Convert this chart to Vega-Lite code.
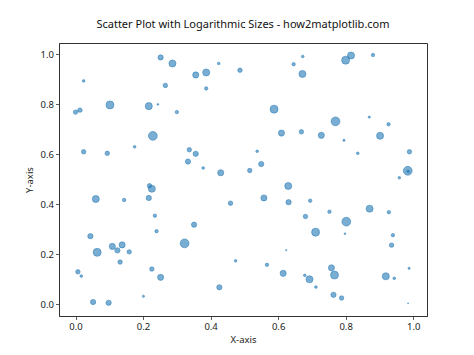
{
  "$schema": "https://vega.github.io/schema/vega-lite/v6.json",
  "width": 368,
  "height": 273,
  "autosize": {"type": "none"},
  "padding": {"left": 59, "top": 43, "right": 47, "bottom": 39},
  "background": "white",
  "title": {
    "text": "Scatter Plot with Logarithmic Sizes - how2matplotlib.com",
    "fontSize": 11,
    "font": "Noto Sans",
    "fontWeight": "normal",
    "color": "#111",
    "baseline": "alphabetic",
    "offset": 4,
    "anchor": "middle"
  },
  "data": {
    "values": [
      {"x": 0.252, "y": 0.988, "s": 28},
      {"x": 0.287, "y": 0.964, "s": 50},
      {"x": 0.024, "y": 0.894, "s": 7},
      {"x": 0.356, "y": 0.918, "s": 38},
      {"x": 0.387, "y": 0.928, "s": 50},
      {"x": 0.424, "y": 0.964, "s": 7},
      {"x": 0.487, "y": 0.937, "s": 20},
      {"x": 0.266, "y": 0.876, "s": 20},
      {"x": 0.387, "y": 0.864, "s": 12},
      {"x": 0.102, "y": 0.798, "s": 64},
      {"x": 0.0, "y": 0.769, "s": 20},
      {"x": 0.013, "y": 0.777, "s": 20},
      {"x": 0.217, "y": 0.793, "s": 50},
      {"x": 0.244, "y": 0.8, "s": 3},
      {"x": 0.3, "y": 0.769, "s": 12},
      {"x": 0.229, "y": 0.674, "s": 78},
      {"x": 0.024, "y": 0.61, "s": 20},
      {"x": 0.094, "y": 0.604, "s": 20},
      {"x": 0.175, "y": 0.63, "s": 7},
      {"x": 0.337, "y": 0.618, "s": 20},
      {"x": 0.356, "y": 0.602, "s": 28},
      {"x": 0.333, "y": 0.571, "s": 28},
      {"x": 0.378, "y": 0.545, "s": 7},
      {"x": 0.43, "y": 0.526, "s": 38},
      {"x": 0.673, "y": 0.992, "s": 7},
      {"x": 0.646, "y": 0.961, "s": 12},
      {"x": 0.672, "y": 0.922, "s": 50},
      {"x": 0.8, "y": 0.977, "s": 64},
      {"x": 0.816, "y": 0.996, "s": 50},
      {"x": 0.881, "y": 0.998, "s": 12},
      {"x": 0.588, "y": 0.781, "s": 64},
      {"x": 0.77, "y": 0.732, "s": 78},
      {"x": 0.87, "y": 0.749, "s": 5},
      {"x": 0.927, "y": 0.72, "s": 12},
      {"x": 0.61, "y": 0.685, "s": 38},
      {"x": 0.669, "y": 0.69, "s": 20},
      {"x": 0.728, "y": 0.676, "s": 38},
      {"x": 0.795, "y": 0.656, "s": 5},
      {"x": 0.902, "y": 0.674, "s": 50},
      {"x": 0.538, "y": 0.612, "s": 7},
      {"x": 0.836, "y": 0.604, "s": 7},
      {"x": 0.989, "y": 0.61, "s": 20},
      {"x": 0.55, "y": 0.561, "s": 28},
      {"x": 0.516, "y": 0.535, "s": 20},
      {"x": 0.984, "y": 0.534, "s": 78},
      {"x": 0.985, "y": 0.532, "s": 7},
      {"x": 0.959, "y": 0.506, "s": 7},
      {"x": 0.219, "y": 0.474, "s": 20},
      {"x": 0.226, "y": 0.462, "s": 50},
      {"x": 0.06, "y": 0.421, "s": 50},
      {"x": 0.144, "y": 0.417, "s": 12},
      {"x": 0.217, "y": 0.425, "s": 28},
      {"x": 0.459, "y": 0.404, "s": 20},
      {"x": 0.235, "y": 0.354, "s": 12},
      {"x": 0.351, "y": 0.318, "s": 28},
      {"x": 0.24, "y": 0.292, "s": 12},
      {"x": 0.044, "y": 0.272, "s": 28},
      {"x": 0.323, "y": 0.243, "s": 78},
      {"x": 0.109, "y": 0.231, "s": 38},
      {"x": 0.138, "y": 0.237, "s": 38},
      {"x": 0.124, "y": 0.215, "s": 28},
      {"x": 0.064, "y": 0.207, "s": 64},
      {"x": 0.159, "y": 0.209, "s": 20},
      {"x": 0.132, "y": 0.168, "s": 20},
      {"x": 0.474, "y": 0.173, "s": 7},
      {"x": 0.007, "y": 0.129, "s": 20},
      {"x": 0.017, "y": 0.112, "s": 7},
      {"x": 0.226, "y": 0.14, "s": 20},
      {"x": 0.252, "y": 0.107, "s": 38},
      {"x": 0.426, "y": 0.067, "s": 28},
      {"x": 0.201, "y": 0.031, "s": 5},
      {"x": 0.052, "y": 0.008, "s": 28},
      {"x": 0.098, "y": 0.005, "s": 28},
      {"x": 0.63, "y": 0.473, "s": 50},
      {"x": 0.558, "y": 0.425, "s": 38},
      {"x": 0.631, "y": 0.408, "s": 28},
      {"x": 0.695, "y": 0.414, "s": 12},
      {"x": 0.871, "y": 0.382, "s": 50},
      {"x": 0.928, "y": 0.368, "s": 12},
      {"x": 0.752, "y": 0.37, "s": 12},
      {"x": 0.681, "y": 0.351, "s": 20},
      {"x": 0.802, "y": 0.33, "s": 78},
      {"x": 0.711, "y": 0.288, "s": 64},
      {"x": 0.798, "y": 0.282, "s": 3},
      {"x": 0.94, "y": 0.276, "s": 12},
      {"x": 0.936, "y": 0.236, "s": 20},
      {"x": 0.624, "y": 0.216, "s": 2},
      {"x": 0.567, "y": 0.157, "s": 12},
      {"x": 0.615, "y": 0.123, "s": 38},
      {"x": 0.679, "y": 0.115, "s": 7},
      {"x": 0.693, "y": 0.099, "s": 50},
      {"x": 0.758, "y": 0.145, "s": 38},
      {"x": 0.767, "y": 0.116, "s": 64},
      {"x": 0.919, "y": 0.111, "s": 50},
      {"x": 0.944, "y": 0.103, "s": 7},
      {"x": 0.988, "y": 0.143, "s": 5},
      {"x": 0.712, "y": 0.068, "s": 7},
      {"x": 0.764, "y": 0.037, "s": 28},
      {"x": 0.788, "y": 0.024, "s": 20},
      {"x": 0.985, "y": 0.003, "s": 1}
    ]
  },
  "mark": {
    "type": "circle",
    "fill": "#1f77b4",
    "fillOpacity": 0.6,
    "stroke": "#1f77b4",
    "strokeOpacity": 0.6,
    "strokeWidth": 0.8
  },
  "encoding": {
    "x": {
      "field": "x",
      "type": "quantitative",
      "scale": {"domain": [-0.049, 1.041], "nice": false, "zero": false},
      "axis": {"title": "X-axis", "values": [0, 0.2, 0.4, 0.6, 0.8, 1.0], "format": ".1f"}
    },
    "y": {
      "field": "y",
      "type": "quantitative",
      "scale": {"domain": [-0.048, 1.046], "nice": false, "zero": false},
      "axis": {"title": "Y-axis", "values": [0, 0.2, 0.4, 0.6, 0.8, 1.0], "format": ".1f"}
    },
    "size": {
      "field": "s",
      "type": "quantitative",
      "scale": {"type": "linear", "domain": [0, 100], "range": [0, 100]},
      "legend": null
    }
  },
  "config": {
    "view": {"stroke": "#333", "strokeWidth": 1},
    "axis": {
      "grid": false,
      "domainColor": "#333",
      "domainWidth": 1,
      "tickColor": "#333",
      "tickSize": 3.5,
      "tickWidth": 0.8,
      "labelFont": "Noto Sans",
      "labelFontSize": 9.5,
      "labelColor": "#222",
      "labelPadding": 2,
      "titleFont": "Noto Sans",
      "titleFontSize": 9.5,
      "titleFontWeight": "normal",
      "titleColor": "#222"
    },
    "axisX": {"titlePadding": 3},
    "axisY": {"titlePadding": 6}
  }
}
